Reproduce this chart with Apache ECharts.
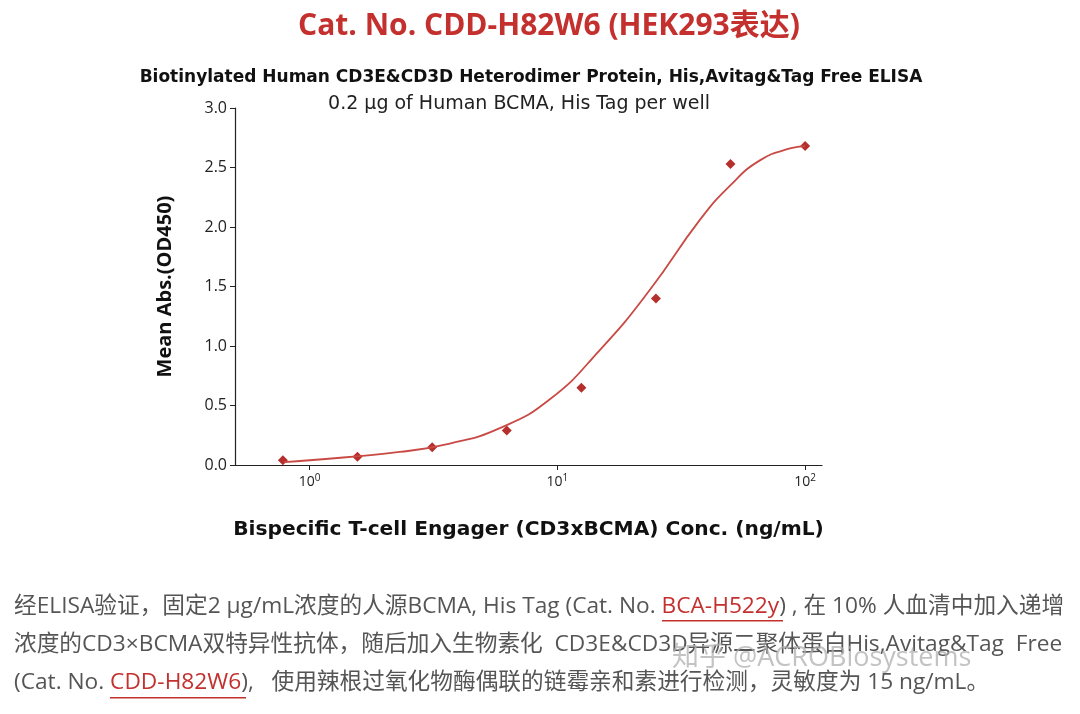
<!DOCTYPE html>
<html><head><meta charset="utf-8">
<script src="https://cdn.jsdelivr.net/npm/echarts@6/dist/echarts.min.js"></script>
<style>html,body{margin:0;padding:0;background:#fff}#c{width:1080px;height:714px}</style>
</head><body><div id="c"></div>
<script>
const concentrations = [0.78, 1.56, 3.125, 6.25, 12.5, 25, 50, 100];
const absorbance = [0.04, 0.07, 0.15, 0.29, 0.65, 1.40, 2.53, 2.68];
const curveX = [0.79, 1, 2.31, 3.68, 5.86, 9.3, 14.9, 23.6, 37.6, 49.9, 65.7, 86.9, 100];
const curveY = [0.025, 0.04, 0.11, 0.18, 0.31, 0.55, 0.97, 1.47, 2.06, 2.35, 2.56, 2.66, 2.68];
const xTicks = [1, 10, 100];

const red = '#c3302e';
const lg = v => Math.log10(v);
const chart = echarts.init(document.getElementById('c'));
const F = '"Open Sans","Noto Sans CJK SC",sans-serif';
const D = '"DejaVu Sans",sans-serif';
const para = '#555';
const PF = 22.7;
chart.setOption({
  animation: false,
  title: [
    {text: 'Cat. No. CDD-H82W6 (HEK293表达)', left: 544, textAlign: 'center', top: 6, textStyle: {color: red, fontSize: 30, fontWeight: 'bold', fontFamily: F}},
    {text: 'Biotinylated Human CD3E&CD3D Heterodimer Protein, His,Avitag&Tag Free ELISA', left: 526, textAlign: 'center', top: 64, textStyle: {color: '#111', fontSize: 17, fontWeight: 'bold', fontFamily: D}},
    {text: '0.2 μg of Human BCMA, His Tag per well', left: 514, textAlign: 'center', top: 90, textStyle: {color: '#222', fontSize: 19, fontWeight: 'normal', fontFamily: D}}
  ],
  grid: {left: 235, right: 258, top: 108, bottom: 249},
  xAxis: {
    type: 'value', min: lg(0.5), max: lg(117),
    name: 'Bispecific T-cell Engager (CD3xBCMA) Conc. (ng/mL)', nameLocation: 'middle', nameGap: 55,
    nameTextStyle: {fontSize: 20.2, fontWeight: 'bold', color: '#111', fontFamily: D},
    axisLine: {lineStyle: {color: '#222', width: 1.2}},
    axisTick: {customValues: xTicks.map(lg), length: 5, lineStyle: {color: '#222'}},
    axisLabel: {customValues: xTicks.map(lg), color: '#222', fontFamily: F, fontSize: 14,
      formatter: v => '10{s|' + Math.round(v) + '}', rich: {s: {fontSize: 10, verticalAlign: 'top', padding: [0,0,8,0], color: '#222'}}},
    splitLine: {show: false}
  },
  yAxis: {
    type: 'value', min: 0, max: 3, interval: 0.5,
    name: 'Mean Abs.(OD450)', nameLocation: 'middle', nameGap: 60,
    nameTextStyle: {fontSize: 20, fontWeight: 'bold', color: '#111', fontFamily: F},
    axisLine: {show: true, onZero: false, lineStyle: {color: '#222', width: 1.2}},
    axisTick: {show: true, length: 5, lineStyle: {color: '#222'}},
    axisLabel: {color: '#222', fontSize: 16, fontFamily: F, formatter: v => v.toFixed(1)},
    splitLine: {show: false}
  },
  series: [
    {type: 'line', data: curveX.map((x, i) => [lg(x), curveY[i]]), smooth: true, symbol: 'none', lineStyle: {color: '#c94a44', width: 1.8}},
    {type: 'scatter', data: concentrations.map((x, i) => [lg(x), absorbance[i]]), symbol: 'diamond', symbolSize: 10, itemStyle: {color: '#b5302c', opacity: 1}}
  ],
  graphic: [
    {type: 'text', left: 14, top: 595, style: {fontSize: PF, fontFamily: F, fill: para,
      text: '经ELISA验证，固定2 μg/mL浓度的人源BCMA, His Tag (Cat. No. {r|BCA-H522y}) , 在 10% 人血清中加入递增',
      rich: {r: {fill: red, fontSize: PF, fontFamily: F}}}},
    {type: 'text', left: 14, top: 633, style: {fontSize: PF, fontFamily: F, fill: para,
      text: '浓度的CD3×BCMA双特异性抗体，随后加入生物素化  CD3E&CD3D异源二聚体蛋白His,Avitag&Tag  Free'}},
    {type: 'text', left: 14, top: 671, style: {fontSize: PF, fontFamily: F, fill: para,
      text: '(Cat. No. {r|CDD-H82W6}),   使用辣根过氧化物酶偶联的链霉亲和素进行检测，灵敏度为 15 ng/mL。',
      rich: {r: {fill: red, fontSize: PF, fontFamily: F}}}},
    {type: 'rect', shape: {x: 662, y: 620, width: 121, height: 1.5}, style: {fill: red}},
    {type: 'rect', shape: {x: 110, y: 697, width: 136, height: 1.5}, style: {fill: red}},
    {type: 'text', left: 672, top: 645, style: {fontSize: 27, fontFamily: F, fill: 'rgba(175,175,175,0.75)', text: '知乎 @ACROBiosystems'}}
  ]
});
</script></body></html>
